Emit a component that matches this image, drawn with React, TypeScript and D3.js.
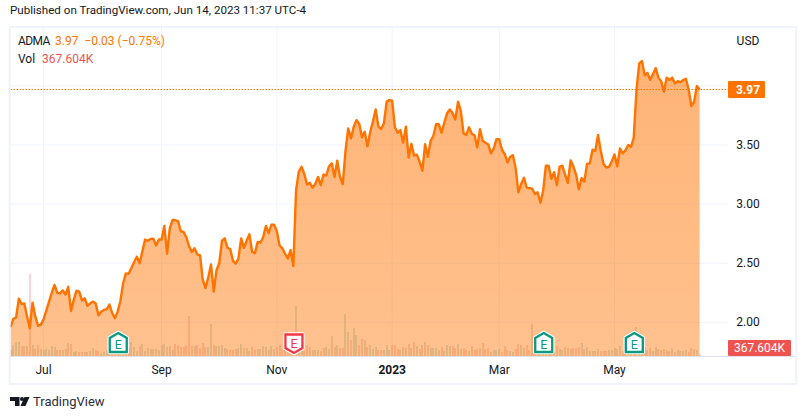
import React from 'react';
import * as d3 from 'd3';

const W = 806;
const H = 419;

// daily closes, Jun 14 2022 .. Jun 14 2023
const closes = [
  1.96, 2.03, 2.04, 2.2, 2.155, 2.16, 2.05, 1.95, 2.166, 2.05,
  1.97, 1.98, 2.025, 2.1, 2.175, 2.25, 2.316, 2.25, 2.245, 2.27,
  2.235, 2.3, 2.096, 2.19, 2.268, 2.26, 2.185, 2.203, 2.14, 2.16,
  2.175, 2.16, 2.06, 2.09, 2.105, 2.11, 2.15, 2.08, 2.034, 2.09,
  2.18, 2.33, 2.414, 2.41, 2.46, 2.51, 2.555, 2.5, 2.6, 2.7,
  2.69, 2.705, 2.708, 2.65, 2.7, 2.7, 2.815, 2.58, 2.795, 2.866,
  2.863, 2.855, 2.77, 2.765, 2.72, 2.645, 2.595, 2.626, 2.575, 2.567,
  2.36, 2.29, 2.38, 2.49, 2.26, 2.44, 2.5, 2.69, 2.71, 2.63,
  2.62, 2.52, 2.496, 2.54, 2.71, 2.63, 2.69, 2.745, 2.595, 2.585,
  2.68, 2.675, 2.72, 2.815, 2.755, 2.825, 2.825, 2.77, 2.65, 2.625,
  2.58, 2.54, 2.61, 2.476, 3.12, 3.274, 3.315, 3.255, 3.165, 3.18,
  3.14, 3.17, 3.23, 3.16, 3.25, 3.243, 3.32, 3.345, 3.23, 3.368,
  3.23, 3.17, 3.45, 3.64, 3.556, 3.655, 3.71, 3.68, 3.565, 3.613,
  3.49, 3.61, 3.7, 3.8, 3.655, 3.635, 3.685, 3.867, 3.88, 3.875,
  3.65, 3.604, 3.627, 3.52, 3.655, 3.393, 3.51, 3.41, 3.418, 3.36,
  3.283, 3.506, 3.4, 3.535, 3.576, 3.675, 3.675, 3.604, 3.69, 3.768,
  3.8, 3.77, 3.715, 3.867, 3.79, 3.6, 3.585, 3.65, 3.595, 3.582,
  3.48, 3.633, 3.534, 3.52, 3.505, 3.43, 3.472, 3.55, 3.55, 3.46,
  3.424, 3.353, 3.4, 3.413, 3.303, 3.1, 3.17, 3.224, 3.14, 3.135,
  3.13, 3.085, 3.1, 3.012, 3.11, 3.325, 3.325, 3.215, 3.27, 3.16,
  3.317, 3.325, 3.25, 3.18, 3.37, 3.32, 3.25, 3.125, 3.22, 3.19,
  3.34, 3.345, 3.46, 3.45, 3.585, 3.45, 3.34, 3.31, 3.315, 3.36,
  3.42, 3.32, 3.47, 3.43, 3.455, 3.5, 3.485, 3.56, 3.965, 4.19,
  4.21, 4.09, 4.11, 4.05, 4.1, 4.15, 4.07, 4.04, 3.95, 4.07,
  4.05, 4.07, 4.02, 4.04, 4.03, 4.05, 4.06, 3.97, 3.83, 3.865, 4.0, 3.97,
];

// volume in thousands of shares
const volumes = [
  1080, 1980, 2520, 2520, 1800, 1800, 1800, 14760, 1980, 1260,
  1980, 1260, 1080, 1260, 1080, 1800, 1620, 1080, 1080, 1080,
  1260, 2340, 2160, 720, 900, 720, 720, 720, 720, 900,
  1440, 1080, 900, 540, 720, 1080, 900, 720, 540, 540,
  720, 900, 900, 1440, 2520, 1620, 900, 1800, 2160, 900,
  1440, 1260, 1260, 1260, 1080, 1980, 2160, 1620, 1800, 1080,
  2160, 1980, 1620, 1620, 1980, 7200, 1800, 1800, 1980, 1440,
  2340, 1620, 1620, 5760, 1980, 1800, 1800, 1980, 1440, 1260,
  1080, 1080, 1260, 1440, 2160, 1440, 1440, 900, 1620, 1080,
  1260, 1260, 1800, 1620, 1080, 1800, 1260, 1620, 1980, 1080,
  1080, 900, 900, 720, 9000, 900, 900, 900, 1980, 1620,
  1080, 1080, 1080, 900, 1440, 1620, 1260, 3600, 1620, 1980,
  1440, 1440, 7560, 4320, 2880, 5040, 3780, 1980, 3060, 2880,
  1620, 1980, 1260, 1620, 1080, 1080, 1080, 1980, 1080, 1980,
  1980, 1260, 1080, 1620, 1440, 2160, 1440, 2520, 1800, 1260,
  1980, 2520, 1980, 1440, 1440, 1440, 1080, 1620, 900, 1980,
  1800, 1800, 1440, 2160, 1260, 1440, 1080, 900, 1800, 1080,
  1260, 1440, 2340, 1260, 1440, 720, 1080, 1080, 1260, 720,
  1800, 1080, 900, 720, 1260, 2160, 1980, 1440, 1980, 1080,
  5760, 540, 720, 540, 540, 720, 540, 720, 1080, 1800,
  1260, 1080, 1620, 1440, 1260, 1440, 1440, 1620, 2340, 1260,
  1620, 900, 900, 900, 1260, 900, 900, 900, 1080, 1080,
  1440, 1260, 1800, 900, 720, 540, 540, 720, 5220, 900,
  720, 1620, 1080, 1440, 900, 1620, 1260, 1080, 1260, 1080,
  900, 1440, 720, 1080, 900, 900, 1080, 720, 1440, 1260, 1080, 367.604,
];

const priceTicks = [2, 2.5, 3, 3.5, 4];
const priceLabels = [
  { v: 2, t: '2.00' },
  { v: 2.5, t: '2.50' },
  { v: 3, t: '3.00' },
  { v: 3.5, t: '3.50' },
];
// index of the first session of each labelled period
const timeTicks = [
  { i: 12, t: 'Jul', bold: false },
  { i: 55, t: 'Sep', bold: false },
  { i: 97, t: 'Nov', bold: false },
  { i: 139, t: '2023', bold: true },
  { i: 178, t: 'Mar', bold: false },
  { i: 220, t: 'May', bold: false },
];
const earnings = [
  { i: 39, up: true },
  { i: 103, up: false },
  { i: 194, up: true },
  { i: 227, up: true },
];

const ORANGE = '#ff7300';
const RED = '#ef5350';
const TEAL = '#089981';
const MARKER_RED = '#f23645';
const GRID = '#f0f3fa';
const TEXT = '#131722';
const FONT = 'Roboto, sans-serif';

const plotRight = 728;
const baseY = 356;

const x = d3.scaleLinear().domain([0, closes.length - 1]).range([10.6, 699.6]);
const y = d3.scaleLinear().domain([2, 4]).range([322.3, 85.9]);
const vol = d3.scaleLinear().domain([0, 14760]).range([baseY, 274]);

const line = d3.line<number>().x((_, i) => x(i)).y((d) => y(d));
const area = d3.area<number>().x((_, i) => x(i)).y0(baseY).y1((d) => y(d));

const Marker = ({ i, up }: { i: number; up: boolean }) => {
  const c = x(i) + 0.6;
  const color = up ? TEAL : MARKER_RED;
  const hw = 8.5;
  const d = up
    ? `M${c},333 L${c + hw},338 L${c + hw},352 L${c - hw},352 L${c - hw},338 Z`
    : `M${c - hw},334.5 L${c + hw},334.5 L${c + hw},348 L${c},353 L${c - hw},348 Z`;
  return (
    <g>
      <path d={d} fill="#fff" stroke="#fff" strokeWidth={4.5} strokeLinejoin="round" />
      <path d={d} fill="#fff" stroke={color} strokeWidth={2.3} strokeLinejoin="miter" />
      <text x={c} y={up ? 348.5 : 347.5} textAnchor="middle" fontSize={12.5} fontFamily={FONT} fill={color}>E</text>
    </g>
  );
};

export default function App() {
  return (
    <svg width={W} height={H} style={{ position: 'absolute', left: 0, top: 0, display: 'block', background: '#fff' }}>
      <defs>
        <linearGradient id="areaFill" gradientUnits="userSpaceOnUse" x1={0} y1={60} x2={0} y2={baseY}>
          <stop offset="0" stopColor={ORANGE} stopOpacity={0.54} />
          <stop offset="1" stopColor={ORANGE} stopOpacity={0.44} />
        </linearGradient>
      </defs>

      <text x={10} y={14} fontSize={11.6} fontFamily={FONT} fill={TEXT}>Published on TradingView.com, Jun 14, 2023 11:37 UTC-4</text>

      {priceTicks.map((v) => (
        <line key={v} x1={10} x2={plotRight} y1={y(v)} y2={y(v)} stroke={GRID} />
      ))}
      {timeTicks.map((d) => (
        <line key={d.t} x1={x(d.i)} x2={x(d.i)} y1={27} y2={baseY} stroke={GRID} />
      ))}

      {volumes.map((v, i) => (
        <rect
          key={i}
          x={Math.round(x(i)) - 0.5}
          width={1}
          y={vol(v)}
          height={baseY - vol(v)}
          fill={i > 0 && closes[i] < closes[i - 1] ? RED : '#26a69a'}
          fillOpacity={0.5}
        />
      ))}

      <path d={area(closes) ?? ''} fill="url(#areaFill)" />
      <path d={line(closes) ?? ''} fill="none" stroke={ORANGE} strokeWidth={2.4} strokeLinejoin="round" />

      <line x1={10.5} x2={plotRight} y1={89.5} y2={89.5} stroke={ORANGE} strokeWidth={1} strokeDasharray="1.5 1.5" />

      {earnings.map((d) => (
        <Marker key={d.i} i={d.i} up={d.up} />
      ))}

      <rect x={9.7} y={27} width={786.6} height={357} fill="none" stroke={GRID} strokeWidth={2} />
      <line x1={10} x2={795} y1={356.5} y2={356.5} stroke="#e0e3eb" />

      <text x={18} y={45} fontSize={12} letterSpacing={-0.6} fontFamily={FONT} fill={TEXT}>ADMA</text>
      <text x={55} y={45} fontSize={12} fontFamily={FONT} fill={ORANGE} xmlSpace="preserve">3.97  −0.03 (−0.75%)</text>
      <text x={18} y={63} fontSize={12} fontFamily={FONT} fill={TEXT}>Vol</text>
      <text x={42} y={63} fontSize={12} fontFamily={FONT} fill={RED}>367.604K</text>

      <text x={748} y={45} textAnchor="middle" fontSize={12} fontFamily={FONT} fill={TEXT}>USD</text>
      {priceLabels.map((d) => (
        <text key={d.t} x={748} y={y(d.v) + 4} textAnchor="middle" fontSize={12} fontFamily={FONT} fill={TEXT}>{d.t}</text>
      ))}
      <rect x={728} y={81} width={37} height={17} rx={1} fill={ORANGE} />
      <text x={748} y={93.5} textAnchor="middle" fontSize={12} fontWeight={700} fontFamily={FONT} fill="#fff">3.97</text>
      <rect x={728} y={340} width={63} height={16} rx={1} fill={RED} />
      <text x={759.5} y={352} textAnchor="middle" fontSize={12} fontFamily={FONT} fill="#fff">367.604K</text>

      {timeTicks.map((d) => (
        <text key={d.t} x={x(d.i)} y={374} textAnchor="middle" fontSize={12} fontWeight={d.bold ? 700 : 400} fontFamily={FONT} fill={TEXT}>{d.t}</text>
      ))}

      <path d="M10,397 H19.5 V406 H15 V401 H10 Z" fill="#131722" />
      <circle cx={22} cy={399} r={2} fill="#131722" />
      <path d="M24.5,397 H29.5 L25.5,406 H20.5 Z" fill="#131722" />
      <text x={33} y={406} fontSize={13} fontFamily={FONT} fill="#2a2e39">TradingView</text>
    </svg>
  );
}
